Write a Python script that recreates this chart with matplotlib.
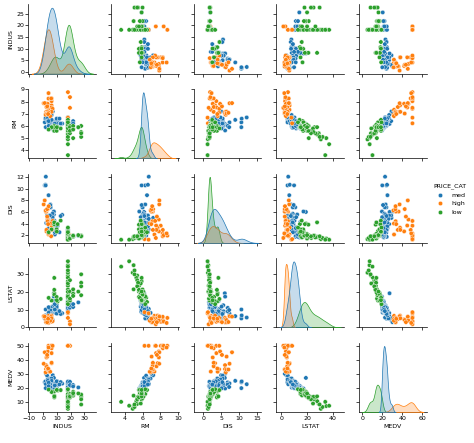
import pandas as pd
import seaborn as sns
import matplotlib
matplotlib.use('Agg')
from matplotlib import pyplot as plt
from matplotlib.ticker import MultipleLocator

cols = ['INDUS', 'RM', 'DIS', 'LSTAT', 'MEDV']
hue_order = ['med', 'high', 'low']

# (INDUS, RM, DIS, LSTAT, MEDV)
med_rows = [
    (2.31,6.58,4.09,4.98,24.0),(7.07,6.42,4.97,9.14,21.6),(7.07,7.19,4.97,4.03,29.0),(2.18,7.0,6.06,2.94,30.0),
    (7.87,6.0,5.56,12.4,22.9),(7.87,6.17,6.0,19.1,27.1),(7.87,5.63,6.08,17.2,19.5),(8.14,5.95,4.47,8.26,20.2),
    (8.14,6.10,4.5,10.3,20.3),(8.14,5.8,4.25,14.8,21.0),(5.96,5.85,3.38,8.8,21.0),(5.96,6.0,3.38,11.4,20.5),
    (2.95,6.4,5.4,5.2,28.7),(6.91,6.1,5.7,9.0,22.0),(6.91,5.8,5.1,11.6,19.7),(5.64,6.0,6.8,10.9,23.9),
    (4.0,6.5,8.9,6.3,25.0),(1.25,6.3,10.6,5.0,24.0),(1.69,6.6,10.7,6.7,24.6),(2.02,6.7,12.1,5.5,22.6),
    (1.91,5.9,10.6,10.0,19.8),(5.32,6.3,7.3,7.6,23.2),(4.95,6.6,5.4,6.9,26.6),(13.92,6.2,5.5,7.9,23.0),
    (10.59,6.2,3.9,9.5,22.0),(10.59,6.4,3.6,8.0,24.4),(6.2,6.9,3.9,8.1,26.7),(6.2,6.5,3.2,9.5,25.0),
    (9.69,5.9,2.5,13.6,19.6),(9.69,6.0,2.8,12.0,21.2),(18.1,6.2,2.2,12.7,21.9),(18.1,6.4,2.7,11.5,23.1),
    (18.1,6.0,2.0,15.0,20.1),(18.1,6.7,3.0,10.3,22.8),(18.1,6.1,2.5,14.1,19.9),(18.1,5.9,1.8,13.3,20.6),
    (18.1,6.3,2.4,10.7,23.7),(18.1,6.5,2.9,9.3,24.5),(19.58,6.1,1.6,14.1,21.4),(19.58,6.2,1.7,11.0,24.3),
    (19.58,5.9,1.8,12.5,22.0),(21.89,6.4,1.9,11.4,22.0),(21.89,6.2,1.7,13.0,21.0),(25.65,5.9,1.9,14.0,20.3),
    (3.41,6.7,4.8,5.0,26.0),(3.41,6.4,4.1,6.6,25.0),(4.49,6.0,4.4,8.4,22.9),(4.49,6.2,4.2,9.0,22.0),
    (5.13,6.0,6.8,9.0,22.4),(5.13,5.9,7.2,9.7,20.6),(10.01,6.0,2.6,12.3,20.8),(10.01,6.4,2.7,11.0,21.7),
    (9.9,6.2,3.3,11.5,22.6),(9.9,6.6,3.5,7.7,24.7),(4.05,6.4,2.9,8.2,23.7),(4.05,6.0,3.2,11.3,21.2),
    (8.56,6.1,2.1,13.0,19.5),(8.56,6.2,2.5,10.0,21.7),(12.83,6.2,5.3,7.5,24.1),(11.93,6.6,2.5,9.1,22.4),
]
high_rows = [
    (2.18,7.15,6.06,5.33,36.2),(2.18,7.02,6.06,2.88,33.4),(3.97,8.25,2.29,3.16,50.0),(3.97,7.33,2.1,6.45,31.6),
    (6.2,8.04,3.62,3.13,50.0),(6.2,7.69,3.28,6.58,37.6),(6.2,8.27,2.89,4.14,48.3),(6.2,7.52,3.65,4.56,44.8),
    (2.46,7.83,2.64,4.45,41.7),(2.46,7.56,2.9,4.7,35.4),(3.33,7.82,4.68,3.76,46.0),(3.33,7.1,4.4,5.3,33.2),
    (0.46,7.87,7.31,6.27,37.2),(1.89,6.92,6.27,4.61,31.1),(3.44,7.18,6.48,2.87,32.9),(5.86,8.26,1.8,5.91,50.0),
    (6.96,7.41,4.45,3.53,50.0),(19.58,8.37,1.99,3.32,50.0),(19.58,7.49,1.5,1.73,50.0),(18.1,6.68,1.2,7.9,50.0),
    (18.1,8.78,1.9,5.29,50.0),(18.1,6.22,1.3,8.5,50.0),(3.97,8.7,2.3,2.47,48.8),(6.2,7.16,2.9,5.1,37.9),
    (2.95,7.02,6.5,4.1,42.3),(4.05,7.08,7.0,3.0,33.1),(1.22,7.88,8.0,6.0,45.4),(5.19,6.81,4.0,3.7,31.5),
    (2.97,7.61,5.2,2.9,43.5),(3.64,6.98,3.9,4.8,33.8),
]
low_rows = [
    (18.1,5.0,1.4,34.8,7.0),(18.1,5.4,1.6,29.0,8.5),(18.1,4.9,1.3,30.6,5.0),(18.1,5.9,1.9,25.8,11.7),
    (18.1,6.2,2.1,18.1,14.9),(18.1,5.6,1.5,23.3,13.4),(18.1,4.5,1.2,37.0,7.2),(18.1,6.4,2.4,16.6,17.8),
    (18.1,5.3,1.7,27.8,10.5),(18.1,6.0,2.0,21.2,12.7),(18.1,5.8,1.8,24.6,8.8),(18.1,6.3,2.7,17.3,15.6),
    (18.1,5.1,1.5,31.9,6.3),(18.1,6.1,2.2,19.9,13.8),(18.1,3.6,1.2,34.0,10.0),(18.1,6.5,2.5,14.2,18.5),
    (19.58,5.4,1.6,26.4,13.1),(19.58,6.0,1.8,15.0,15.6),(19.58,5.9,1.6,16.1,14.6),(19.58,5.6,1.4,20.0,13.8),
    (21.89,5.8,1.9,19.2,17.2),(21.89,5.0,1.7,21.3,14.4),(21.89,6.0,1.8,18.8,15.4),(21.89,5.7,1.9,17.6,16.2),
    (27.74,5.1,1.8,29.7,8.1),(27.74,5.5,1.9,25.0,13.6),(27.74,6.0,1.9,18.0,15.2),(27.74,5.4,1.8,23.0,11.8),
    (8.14,5.8,4.0,19.2,14.5),(8.14,5.6,3.8,21.0,13.2),(8.14,6.0,3.9,18.3,17.5),(8.14,5.9,4.2,27.7,13.9),
    (10.59,5.9,3.9,14.5,18.0),(9.9,5.6,3.0,17.0,18.5),(6.2,5.9,3.0,15.0,17.0),(12.83,5.8,4.5,15.9,18.4),
    (4.05,5.7,2.5,16.5,18.7),(18.1,6.3,3.3,13.0,19.0),(25.65,5.9,2.0,20.0,16.0),(10.01,5.9,2.6,15.2,18.5),
]

frames = []
for cat, rows in [('med', med_rows), ('high', high_rows), ('low', low_rows)]:
    d = pd.DataFrame(rows, columns=cols)
    d['PRICE_CAT'] = cat
    frames.append(d)
df = pd.concat(frames, ignore_index=True)

plt.rcParams.update({'font.size': 4.5, 'axes.linewidth': 0.5,
                     'xtick.major.width': 0.5, 'ytick.major.width': 0.5,
                     'xtick.major.size': 2, 'ytick.major.size': 2,
                     'xtick.major.pad': 1, 'ytick.major.pad': 1, 'axes.labelpad': 2})

g = sns.pairplot(df, hue='PRICE_CAT', hue_order=hue_order, height=0.86,
                 plot_kws={'s': 10, 'linewidth': 0.3},
                 diag_kws={'linewidth': 0.5})

x_steps = {'INDUS': 10, 'RM': 2, 'DIS': 5, 'LSTAT': 20, 'MEDV': 20}
y_steps = {'INDUS': 5, 'RM': 1, 'DIS': 2, 'LSTAT': 10, 'MEDV': 10}
for i, yv in enumerate(cols):
    for j, xv in enumerate(cols):
        ax = g.axes[i, j]
        ax.xaxis.set_major_locator(MultipleLocator(x_steps[xv]))
        if i != j or j == 0:
            ax.yaxis.set_major_locator(MultipleLocator(y_steps[yv]))

g.fig.set_size_inches(4.74, 4.43)
g.fig.subplots_adjust(left=0.06, right=0.9, bottom=0.07, top=0.99, wspace=0.22, hspace=0.22)
leg = g._legend
leg.set_bbox_to_anchor((0.995, 0.55))
plt.setp(leg.get_texts(), fontsize=4.5)
leg.get_title().set_fontsize(4.5)
g.fig.savefig('out.png', dpi=100)
